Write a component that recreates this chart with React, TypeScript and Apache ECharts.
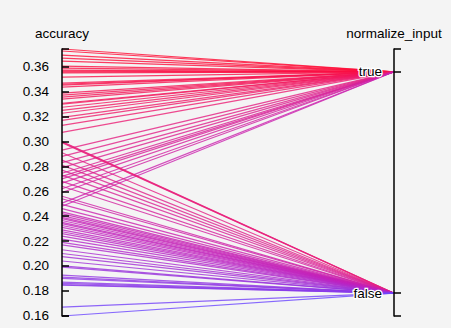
import React, { useEffect, useRef } from "react";
import * as echarts from "echarts";

const dimensions = ["accuracy", "normalize_input"];
const categories = ["false", "true"];

// accuracy values of runs with normalize_input = true
const trueAccuracy = [
  0.3743, 0.3727, 0.3694, 0.367, 0.3646, 0.3605, 0.359, 0.3573, 0.3565, 0.3557,
  0.355, 0.3517, 0.3469, 0.346, 0.3452, 0.3436, 0.3388, 0.3372, 0.3356, 0.334,
  0.3307, 0.33, 0.3275, 0.325, 0.3227, 0.3194, 0.317, 0.313, 0.3073, 0.293,
  0.288, 0.283, 0.279, 0.2745, 0.272, 0.27, 0.2665, 0.262, 0.259, 0.2505, 0.248,
];

// accuracy values of runs with normalize_input = false
const falseAccuracy = [
  0.3, 0.2995, 0.299, 0.291, 0.285, 0.281, 0.277, 0.273, 0.268, 0.264, 0.256,
  0.254, 0.2495, 0.246, 0.2435, 0.242, 0.2405, 0.239, 0.238, 0.2365, 0.235,
  0.234, 0.2325, 0.231, 0.229, 0.2275, 0.226, 0.224, 0.2215, 0.219, 0.217,
  0.213, 0.21, 0.2075, 0.204, 0.2, 0.199, 0.1926, 0.191, 0.19, 0.187, 0.186,
  0.185, 0.1845, 0.167, 0.1598,
];

const accuracyTicks = [0.16, 0.18, 0.2, 0.22, 0.24, 0.26, 0.28, 0.3, 0.32, 0.34, 0.36];

const FONT = "'Liberation Sans', Arial, Helvetica, sans-serif";

export default function App() {
  const ref = useRef<HTMLDivElement>(null);
  useEffect(() => {
    document.body.style.margin = "0";
    document.body.style.background = "#f4f4f4";
    const chart = echarts.init(ref.current!, null, { renderer: "svg" });
    const data = [
      ...trueAccuracy.map((v) => [v, categories.indexOf("true")]),
      ...falseAccuracy.map((v) => [v, categories.indexOf("false")]),
    ];
    const all = [...trueAccuracy, ...falseAccuracy];
    const aMin = Math.min(...all);
    const aMax = Math.max(...all);
    const pad = 0.103;
    const axisCommon = {
      nameLocation: "end",
      nameGap: 9,
      nameTextStyle: { color: "#000", fontSize: 13.5, fontFamily: FONT },
      axisLine: { lineStyle: { color: "#000", width: 1.5 } },
      axisTick: { inside: true, length: 7, lineStyle: { color: "#000", width: 1.5 } },
      axisLabel: {
        color: "#000",
        fontSize: 13.5,
        fontFamily: FONT,
        margin: -13,
        align: "right",
        verticalAlign: "middle",
      },
      splitLine: { show: false },
      z: 5,
    };
    chart.setOption({
      animation: false,
      backgroundColor: "#f4f4f4",
      parallel: {
        left: 62,
        right: 57,
        top: 49,
        bottom: 12,
        parallelAxisDefault: { type: "value" },
      },
      parallelAxis: [
        {
          ...axisCommon,
          dim: 0,
          name: dimensions[0],
          min: aMin,
          max: aMax,
          axisTick: { ...axisCommon.axisTick, customValues: [aMin, ...accuracyTicks, aMax] },
          axisLabel: {
            ...axisCommon.axisLabel,
            customValues: accuracyTicks,
            formatter: (v: number) => v.toFixed(2),
          },
        },
        {
          ...axisCommon,
          dim: 1,
          name: dimensions[1],
          min: -pad,
          max: 1 + pad,
          axisTick: { ...axisCommon.axisTick, customValues: [-pad, 0, 1, 1 + pad] },
          axisLabel: {
            ...axisCommon.axisLabel,
            customValues: [0, 1],
            margin: -12,
            formatter: (v: number) => categories[Math.round(v)] ?? "",
            textBorderColor: "#fff",
            textBorderWidth: 2.5,
          },
        },
      ],
      visualMap: {
        show: false,
        type: "continuous",
        dimension: 0,
        min: aMin,
        max: aMax,
        inRange: { color: ["#6a45ff", "#c022bf", "#ea1f78", "#ff0a32"] },
      },
      series: [
        {
          type: "parallel",
          z: 2,
          lineStyle: { width: 1.2, opacity: 0.8 },
          data,
        },
      ],
    });
    return () => chart.dispose();
  }, []);
  return <div ref={ref} style={{ width: 451, height: 328 }} />;
}
